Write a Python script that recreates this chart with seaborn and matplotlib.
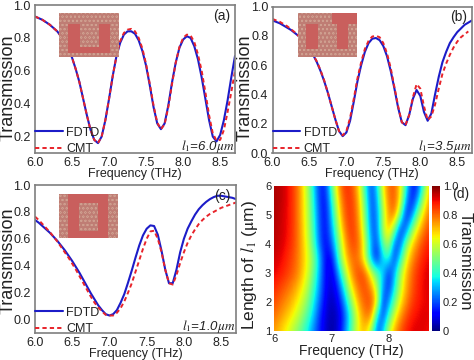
import numpy as np
import pandas as pd
import matplotlib
matplotlib.use("Agg")
import matplotlib.pyplot as plt
from matplotlib.patches import Rectangle
import seaborn as sns

# curves, one value per 0.05 THz from 6.0 to 8.7
freq = np.round(np.arange(55) * 0.05 + 6.0, 2)

fdtd_a = [.93, .92, .91, .895, .88, .86, .84, .81, .78, .73, .68, .61, .53, .43, .33, .24, .18, .16, .20, .30,
          .43, .57, .69, .77, .82, .84, .84, .825, .785, .72, .63, .51, .38, .28, .245, .28, .39, .53, .65, .74,
          .79, .81, .80, .75, .67, .56, .43, .30, .20, .17, .21, .30, .42, .56, .69]
cmt_a = [.93, .92, .91, .895, .88, .86, .84, .81, .78, .73, .68, .61, .53, .43, .33, .24, .18, .16, .20, .30,
         .43, .57, .69, .78, .83, .85, .855, .84, .80, .735, .64, .52, .39, .285, .245, .275, .38, .52, .65, .745,
         .80, .82, .815, .775, .70, .60, .47, .33, .22, .175, .18, .24, .35, .47, .60]

fdtd_b = [.905, .895, .885, .87, .855, .84, .82, .80, .775, .745, .71, .67, .62, .56, .49, .41, .32, .23, .15, .115,
          .14, .22, .35, .49, .60, .69, .75, .78, .785, .77, .73, .66, .56, .44, .31, .21, .19, .26, .37, .43,
          .39, .28, .22, .27, .40, .52, .62, .69, .75, .79, .825, .85, .875, .89, .905]
cmt_b = [.915, .905, .895, .88, .865, .845, .825, .80, .775, .745, .71, .67, .625, .565, .495, .41, .32, .23, .15, .12,
         .15, .24, .37, .51, .62, .71, .765, .795, .80, .79, .75, .68, .58, .45, .32, .21, .19, .26, .38, .47,
         .44, .32, .225, .25, .33, .44, .54, .61, .67, .72, .76, .79, .81, .83, np.nan]

fdtd_c = [.74, .72, .695, .67, .645, .615, .585, .55, .515, .475, .435, .39, .345, .295, .245, .195, .15, .105, .07, .04,
          .03, .04, .07, .125, .19, .275, .365, .46, .55, .625, .675, .70, .695, .63, .51, .37, .27, .27, .37, .50,
          .60, .675, .73, .78, .82, .85, .875, .895, .91, .92, .92, .915, .91, .905, .895]
cmt_c = [.765, .74, .71, .68, .65, .615, .58, .54, .50, .46, .415, .37, .32, .27, .22, .17, .125, .09, .06, .035,
         .03, .03, .05, .085, .135, .20, .27, .355, .44, .525, .60, .655, .66, .60, .50, .37, .27, .26, .33, .42,
         .50, .57, .625, .67, .71, .74, .765, .785, .80, .815, .83, .84, .85, .86, .87]

l1_texts = [r"$\mathit{l}_{\mathit{1}}$=6.0$\mu m$", r"$\mathit{l}_{\mathit{1}}$=3.5$\mu m$", r"$\mathit{l}_{\mathit{1}}$=1.0$\mu m$"]

# map: rows are l1 = 6.0 down to 1.0 in 0.5 steps, columns 6.0 to 8.7 THz in 0.1 steps
map_freq = np.round(np.arange(28) * 0.1 + 6.0, 1)
map_length = np.round(6.0 - np.arange(11) * 0.5, 1)
map_t = [
    [.96, .95, .92, .87, .80, .68, .53, .33, .16, .17, .43, .69, .84, .86, .79, .63, .36, .19, .36, .65, .80, .81, .67, .40, .15, .17, .42, .69],
    [.96, .95, .92, .87, .80, .69, .55, .36, .17, .14, .36, .63, .80, .86, .82, .67, .42, .19, .30, .60, .78, .82, .66, .30, .13, .28, .55, .73],
    [.96, .94, .91, .87, .80, .69, .56, .38, .19, .13, .31, .57, .77, .85, .83, .70, .46, .20, .27, .55, .75, .78, .50, .14, .23, .50, .68, .79],
    [.95, .94, .91, .87, .80, .70, .57, .40, .20, .13, .27, .50, .72, .84, .84, .73, .50, .22, .24, .58, .72, .50, .16, .22, .50, .67, .77, .84],
    [.95, .93, .90, .86, .80, .71, .59, .42, .22, .12, .21, .42, .65, .80, .84, .77, .56, .27, .20, .46, .58, .22, .20, .50, .67, .77, .84, .88],
    [.93, .91, .88, .84, .79, .71, .62, .49, .30, .12, .11, .35, .60, .75, .80, .75, .56, .26, .13, .35, .39, .16, .38, .62, .75, .825, .875, .905],
    [.91, .89, .86, .825, .78, .70, .60, .46, .28, .12, .08, .23, .47, .67, .80, .85, .80, .60, .45, .33, .16, .30, .55, .70, .80, .86, .90, .92],
    [.87, .84, .81, .77, .72, .65, .55, .41, .26, .12, .07, .14, .33, .56, .72, .81, .83, .75, .55, .28, .16, .36, .58, .72, .81, .87, .90, .92],
    [.83, .80, .76, .72, .66, .59, .49, .36, .22, .10, .05, .09, .22, .42, .62, .76, .82, .83, .65, .16, .27, .48, .65, .76, .84, .88, .90, .91],
    [.79, .75, .71, .66, .60, .52, .42, .30, .17, .08, .04, .06, .15, .32, .52, .69, .78, .76, .32, .18, .42, .62, .75, .83, .88, .90, .92, .91],
    [.74, .695, .645, .585, .515, .435, .345, .245, .15, .07, .03, .07, .19, .365, .55, .675, .695, .51, .20, .33, .60, .73, .82, .875, .91, .92, .91, .895],
]

FRAME = "#7f7f7f"
TEXT = "#222222"
BLUE = "#1c1cc8"
RED = "#e8232a"
W, H = 474, 360

sns.set_theme(style="ticks")
plt.rcParams["font.family"] = ["Liberation Sans", "DejaVu Sans"]
plt.rcParams["mathtext.fontset"] = "stix"
plt.rcParams["text.color"] = TEXT
plt.rcParams["hatch.linewidth"] = 0.35


def px_axes(fig, x0, y0, x1, y1, **kw):
    # rectangle given in picture pixels, y going down
    return fig.add_axes([x0 / W, 1 - y1 / H, (x1 - x0) / W, (y1 - y0) / H], **kw)


def style_frame(ax):
    for s in ax.spines.values():
        s.set_color(FRAME)
        s.set_linewidth(1.2)


def draw_inset(fig, box, base, patches):
    ins = px_axes(fig, *box, zorder=5)
    ins.set(xlim=(0, 1), ylim=(0, 1), xticks=[], yticks=[])
    for s in ins.spines.values():
        s.set_visible(False)
    solid = dict(facecolor="#c95f5d", edgecolor="none")
    holes = dict(facecolor="#bf7d74", edgecolor="#cfa090", hatch="oooo", linewidth=0)
    ins.add_patch(Rectangle((0, 0), 1, 1, **(holes if base == "holes" else solid)))
    for x, y, w, h in patches:
        ins.add_patch(Rectangle((x, y), w, h, **(solid if base == "holes" else holes)))


def line_panel(fig, rect, ylim, yticks, fdtd, cmt, letter, l1_text, ylabel_y):
    ax = px_axes(fig, *rect)
    sns.lineplot(x=freq, y=fdtd, color=BLUE, lw=1.5, label="FDTD", ax=ax)
    sns.lineplot(x=freq, y=cmt, color=RED, lw=1.4, linestyle=(0, (2.2, 1.6)), label="CMT", ax=ax)
    ax.set(xlim=(6.0, 8.7), ylim=ylim, xlabel="", ylabel="")
    ax.set_xticks([6.0, 6.5, 7.0, 7.5, 8.0, 8.5])
    ax.set_yticks(yticks)
    ax.set_xticklabels([f"{t:.1f}" for t in [6.0, 6.5, 7.0, 7.5, 8.0, 8.5]])
    ax.set_yticklabels([f"{t:.1f}" for t in yticks])
    ax.tick_params(length=0, labelsize=9, pad=3, labelcolor=TEXT)
    style_frame(ax)
    leg = ax.legend(frameon=False, loc="lower left", bbox_to_anchor=(0, -0.015), borderaxespad=0, borderpad=0,
                    handlelength=2.2, handletextpad=0.3, labelspacing=0.35, fontsize=9)
    for t in leg.get_texts():
        t.set_color(TEXT)
    ax.set_xlabel("Frequency (THz)", fontsize=9, labelpad=-1, color=TEXT)
    ax.text(0.995, 0.045, l1_text, transform=ax.transAxes, ha="right", va="center", fontsize=9.5, style="italic")
    ax.text(0.975, 0.925, letter, transform=ax.transAxes, ha="right", va="center", fontsize=10)
    fig.text(8 / W if rect[0] < 100 else 245 / W, 1 - ylabel_y / H, "Transmission", rotation=90,
             ha="center", va="center", fontsize=13)
    return ax


fig = plt.figure(figsize=(4.74, 3.6), dpi=100)

line_panel(fig, (35, 5, 235, 153), (0.1, 1.0), [0.2, 0.4, 0.6, 0.8, 1.0], fdtd_a, cmt_a, "(a)", l1_texts[0], 88)
line_panel(fig, (272.5, 6.5, 472, 153), (0.0, 1.0), [0.0, 0.2, 0.4, 0.6, 0.8, 1.0], fdtd_b, cmt_b, "(b)", l1_texts[1], 88)
line_panel(fig, (35, 185, 236, 333), (-0.1, 1.0), [0.0, 0.2, 0.4, 0.6, 0.8, 1.0], fdtd_c, cmt_c, "(c)", l1_texts[2], 261)

draw_inset(fig, (59, 13, 119, 57), "holes",
           [(.15, .09, .20, .66), (.67, .09, .18, .66), (.15, .09, .70, .13)])
draw_inset(fig, (298, 13, 357, 57), "holes",
           [(.14, .19, .20, .56), (.58, .75, .42, .25), (.66, .19, .19, .56)])
draw_inset(fig, (58.5, 194, 118, 238), "solid",
           [(0, 0, .16, 1), (.34, .17, .32, .63), (.84, 0, .16, 1)])

# panel d: heatmap for axes and colorbar, smooth image of the same table on top
df = pd.DataFrame(map_t, index=map_length, columns=map_freq)
ax_d = px_axes(fig, 274, 186, 429, 331)
cax = px_axes(fig, 432, 186, 440, 331)
sns.heatmap(df, cmap="jet", vmin=0, vmax=1, ax=ax_d, cbar_ax=cax, xticklabels=False, yticklabels=False)
ax_d.imshow(df.values, cmap="jet", vmin=0, vmax=1, aspect="auto", interpolation="bicubic",
            interpolation_stage="data", extent=(0, df.shape[1], df.shape[0], 0), zorder=3)
ax_d.set(xlim=(0.5, df.shape[1] - 0.5), ylim=(df.shape[0] - 0.5, 0.5), xlabel="", ylabel="")
ax_d.set_xticks([0.5, 10.5, 20.5])
ax_d.set_xticklabels(["6", "7", "8"], rotation=0)
ax_d.set_yticks([0.5, 2.5, 4.5, 6.5, 8.5, 10.5])
ax_d.set_yticklabels(["6", "5", "4", "3", "2", "1"], rotation=0)
ax_d.tick_params(length=0, labelsize=8, pad=2, labelcolor=TEXT)
ax_d.set_xlabel("Frequency (THz)", fontsize=10, labelpad=0, color=TEXT)
fig.text(249 / W, 1 - 265 / H, r"Length of $\mathit{l}_{\mathit{1}}$ ($\mathrm{\mu}$m)", rotation=90,
         ha="center", va="center", fontsize=12.5)

cax.set_yticks([0, 0.2, 0.4, 0.6, 0.8, 1.0])
cax.set_yticklabels(["0", "0.2", "0.4", "0.6", "0.8", "1.0"])
cax.tick_params(length=0, labelsize=8, pad=2, labelcolor=TEXT)
fig.text(465 / W, 1 - 261 / H, "Transmission", rotation=270, ha="center", va="center", fontsize=12)
fig.text(461 / W, 1 - 194 / H, "(d)", ha="center", va="center", fontsize=10)

fig.savefig("out.png", dpi=100)
